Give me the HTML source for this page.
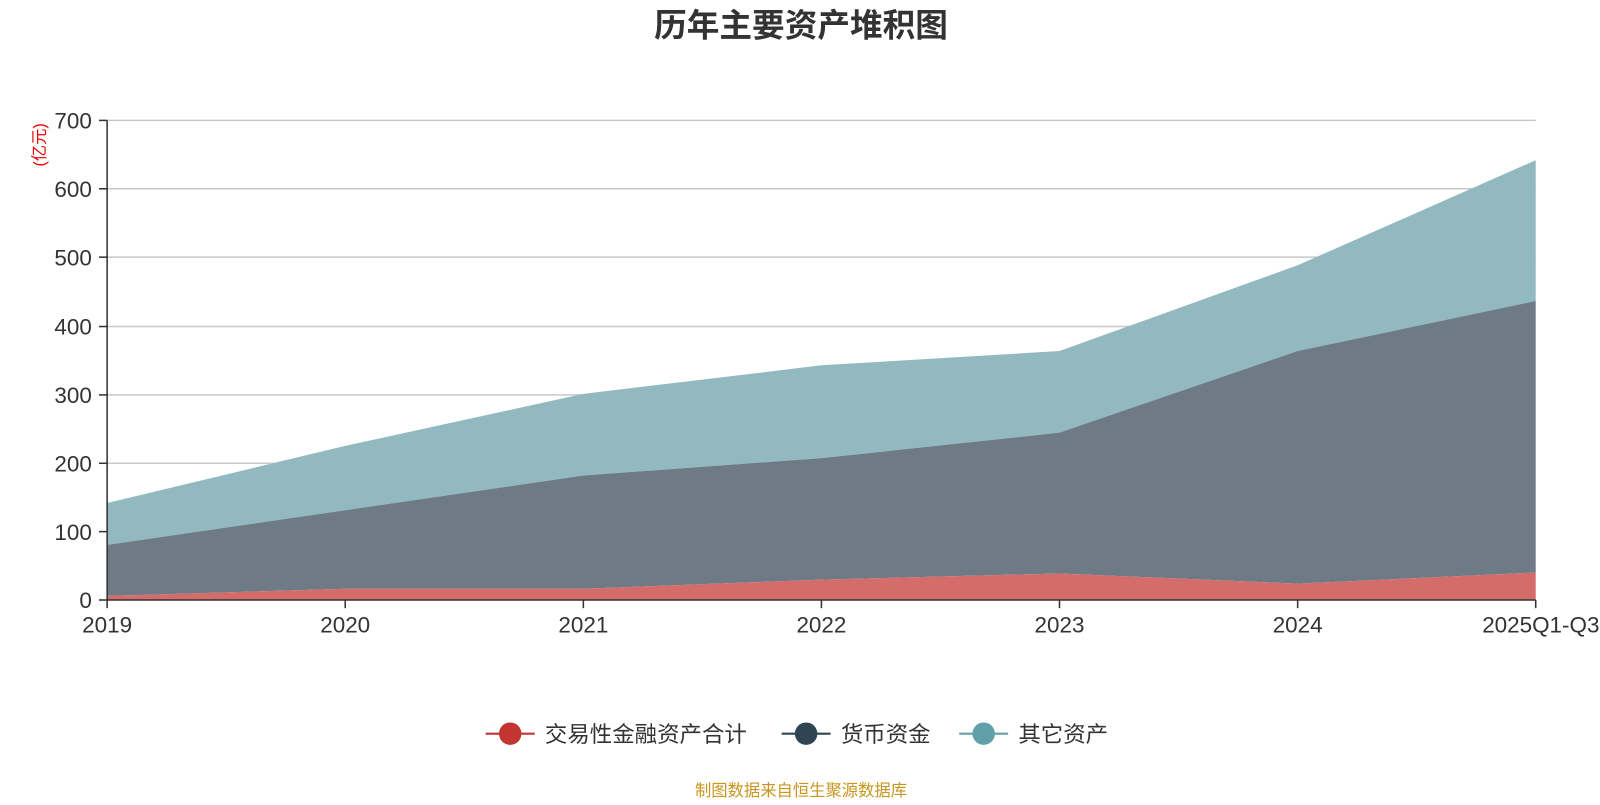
<!DOCTYPE html>
<html><head><meta charset="utf-8"><style>
body{margin:0;background:#fff;overflow:hidden;}
svg text{font-family:"Liberation Sans","Noto Sans CJK SC",sans-serif;}
</style></head><body>
<svg width="1600" height="800" viewBox="0 0 1568 784" xmlns="http://www.w3.org/2000/svg">
<rect width="1568" height="784" fill="#fff"/>
<text x="785" y="36" text-anchor="middle" font-size="32" font-weight="bold" fill="#333">历年主要资产堆积图</text>
<g stroke="#c8c8c8" stroke-width="1.5">
<line x1="105" y1="118" x2="1505" y2="118"/>
<line x1="105" y1="185" x2="1505" y2="185"/>
<line x1="105" y1="252" x2="1505" y2="252"/>
<line x1="105" y1="320" x2="1505" y2="320"/>
<line x1="105" y1="387" x2="1505" y2="387"/>
<line x1="105" y1="454" x2="1505" y2="454"/>
<line x1="105" y1="521" x2="1505" y2="521"/>
</g>
<polygon fill="#91b9bf" points="105,493 338.3,437 571.7,386 805,358 1038.3,344 1271.7,260 1505,157 1505,295 1271.7,344 1038.3,424 805,449 571.7,466 338.3,500 105,534"/>
<polygon fill="#6e7b86" points="105,534 338.3,500 571.7,466 805,449 1038.3,424 1271.7,344 1505,295 1505,561 1271.7,572 1038.3,562 805,568 571.7,577 338.3,577 105,584"/>
<polygon fill="#d46c6a" points="105,584 338.3,577 571.7,577 805,568 1038.3,562 1271.7,572 1505,561 1505,588 105,588"/>
<g stroke="#333" stroke-width="1.5">
<line x1="105" y1="118" x2="105" y2="588"/>
<line x1="105" y1="588" x2="1505" y2="588"/>
<line x1="97" y1="118" x2="105" y2="118"/><line x1="97" y1="185" x2="105" y2="185"/><line x1="97" y1="252" x2="105" y2="252"/><line x1="97" y1="320" x2="105" y2="320"/><line x1="97" y1="387" x2="105" y2="387"/><line x1="97" y1="454" x2="105" y2="454"/><line x1="97" y1="521" x2="105" y2="521"/><line x1="97" y1="588" x2="105" y2="588"/>
<line x1="105" y1="588" x2="105" y2="596"/><line x1="338.3" y1="588" x2="338.3" y2="596"/><line x1="571.7" y1="588" x2="571.7" y2="596"/><line x1="805" y1="588" x2="805" y2="596"/><line x1="1038.3" y1="588" x2="1038.3" y2="596"/><line x1="1271.7" y1="588" x2="1271.7" y2="596"/><line x1="1505" y1="588" x2="1505" y2="596"/>
</g>
<g font-size="22" fill="#333" text-anchor="end">
<text x="90" y="126">700</text><text x="90" y="193">600</text><text x="90" y="260">500</text><text x="90" y="328">400</text><text x="90" y="395">300</text><text x="90" y="462">200</text><text x="90" y="529">100</text><text x="90" y="596">0</text>
</g>
<g font-size="22" fill="#333" text-anchor="middle">
<text x="105" y="620">2019</text><text x="338.3" y="620">2020</text><text x="571.7" y="620">2021</text><text x="805" y="620">2022</text><text x="1038.3" y="620">2023</text><text x="1271.7" y="620">2024</text><text x="1510" y="620">2025Q1-Q3</text>
</g>
<text transform="translate(44,142) rotate(-90)" font-size="16" fill="#e00" text-anchor="middle">(亿元)</text>
<g font-size="22" fill="#333">
<line x1="476" y1="719" x2="524" y2="719" stroke="#c23531" stroke-width="2"/><circle cx="500" cy="719" r="11" fill="#c23531"/>
<text x="534" y="727">交易性金融资产合计</text>
<line x1="766" y1="719" x2="814" y2="719" stroke="#2f4554" stroke-width="2"/><circle cx="790" cy="719" r="11" fill="#2f4554"/>
<text x="824" y="727">货币资金</text>
<line x1="940" y1="719" x2="988" y2="719" stroke="#61a0a8" stroke-width="2"/><circle cx="964" cy="719" r="11" fill="#61a0a8"/>
<text x="998" y="727">其它资产</text>
</g>
<text x="785" y="780" text-anchor="middle" font-size="16" fill="#c8961e">制图数据来自恒生聚源数据库</text>
</svg>
</body></html>
